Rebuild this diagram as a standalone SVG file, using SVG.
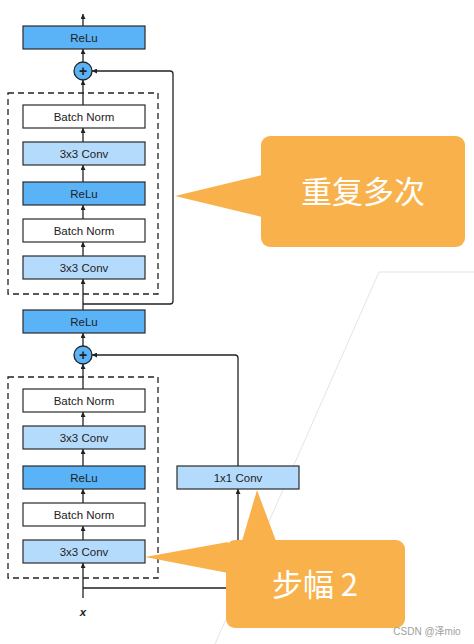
<svg xmlns="http://www.w3.org/2000/svg" width="474" height="644" viewBox="0 0 474 644">
<style>
.box{stroke:#2a2a2a;stroke-width:1.2}
.relu{fill:#5AB3F7}
.conv{fill:#B5DBFC}
.bn{fill:#ffffff}
.lbl{font-family:"Liberation Sans",Arial,sans-serif;font-size:11.5px;fill:#222;text-anchor:middle}
.ln{stroke:#222;stroke-width:1.3;fill:none}
.dash{stroke:#222;stroke-width:1.3;fill:none;stroke-dasharray:6 4}
.call{fill:#F9B24B}
.ct{font-family:"Noto Sans CJK SC","Noto Sans",sans-serif;font-size:31px;fill:#ffffff;text-anchor:middle}
</style>
<defs>
<marker id="ah" viewBox="0 0 10 10" refX="10" refY="5" markerWidth="5" markerHeight="5" orient="auto" markerUnits="userSpaceOnUse">
<path d="M0,0 L10,5 L0,10 z" fill="#222"/>
</marker>
</defs>
<rect width="474" height="644" fill="#ffffff"/>
<g id="artefacts" stroke="#e4e4e4" stroke-width="1" fill="none">
<path d="M474,272 L379,272 L215,644"/>
</g>
<g id="groups">
<rect class="dash" x="8" y="93" width="150" height="201"/>
<rect class="dash" x="8" y="377" width="150" height="201"/>
</g>
<g id="connectors">
<line class="ln" x1="83" y1="26" x2="83" y2="14" marker-end="url(#ah)"/>
<line class="ln" x1="83" y1="62" x2="83" y2="49" marker-end="url(#ah)"/>
<line class="ln" x1="83" y1="105" x2="83" y2="80" marker-end="url(#ah)"/>
<line class="ln" x1="83" y1="142" x2="83" y2="128" marker-end="url(#ah)"/>
<line class="ln" x1="83" y1="182" x2="83" y2="165" marker-end="url(#ah)"/>
<line class="ln" x1="83" y1="219" x2="83" y2="205" marker-end="url(#ah)"/>
<line class="ln" x1="83" y1="256" x2="83" y2="242" marker-end="url(#ah)"/>
<line class="ln" x1="83" y1="310" x2="83" y2="279" marker-end="url(#ah)"/>
<path class="ln" d="M83,304 L170,304 Q173,304 173,301 L173,74 Q173,71 170,71 L92,71" marker-end="url(#ah)"/>
<line class="ln" x1="83" y1="346" x2="83" y2="333" marker-end="url(#ah)"/>
<line class="ln" x1="83" y1="389" x2="83" y2="364" marker-end="url(#ah)"/>
<line class="ln" x1="83" y1="426" x2="83" y2="412" marker-end="url(#ah)"/>
<line class="ln" x1="83" y1="466" x2="83" y2="449" marker-end="url(#ah)"/>
<line class="ln" x1="83" y1="503" x2="83" y2="489" marker-end="url(#ah)"/>
<line class="ln" x1="83" y1="540" x2="83" y2="526" marker-end="url(#ah)"/>
<line class="ln" x1="83" y1="598" x2="83" y2="563" marker-end="url(#ah)"/>
<path class="ln" d="M83,588 L235,588 Q238,588 238,585 L238,489" marker-end="url(#ah)"/>
<path class="ln" d="M238,466 L238,358 Q238,355 235,355 L92,355" marker-end="url(#ah)"/>
</g>
<g id="relu_top"><rect class="box relu" x="23" y="26" width="122" height="23"/><text class="lbl" x="84" y="41.5">ReLu</text></g>
<g id="add_top"><circle cx="83" cy="71" r="9" fill="#5AB3F7" stroke="#222" stroke-width="1.3"/><text class="lbl" x="83" y="75.5" style="font-size:14px;font-weight:bold">+</text></g>
<g id="bn_a1"><rect class="box bn" x="23" y="105" width="122" height="23"/><text class="lbl" x="84" y="120.5">Batch Norm</text></g>
<g id="conv_a1"><rect class="box conv" x="23" y="142" width="122" height="23"/><text class="lbl" x="84" y="157.5">3x3 Conv</text></g>
<g id="relu_a"><rect class="box relu" x="23" y="182" width="122" height="23"/><text class="lbl" x="84" y="197.5">ReLu</text></g>
<g id="bn_a2"><rect class="box bn" x="23" y="219" width="122" height="23"/><text class="lbl" x="84" y="234.5">Batch Norm</text></g>
<g id="conv_a2"><rect class="box conv" x="23" y="256" width="122" height="23"/><text class="lbl" x="84" y="271.5">3x3 Conv</text></g>
<g id="relu_mid"><rect class="box relu" x="23" y="310" width="122" height="23"/><text class="lbl" x="84" y="325.5">ReLu</text></g>
<g id="add_mid"><circle cx="83" cy="355" r="9" fill="#5AB3F7" stroke="#222" stroke-width="1.3"/><text class="lbl" x="83" y="359.5" style="font-size:14px;font-weight:bold">+</text></g>
<g id="bn_b1"><rect class="box bn" x="23" y="389" width="122" height="23"/><text class="lbl" x="84" y="404.5">Batch Norm</text></g>
<g id="conv_b1"><rect class="box conv" x="23" y="426" width="122" height="23"/><text class="lbl" x="84" y="441.5">3x3 Conv</text></g>
<g id="relu_b"><rect class="box relu" x="23" y="466" width="122" height="23"/><text class="lbl" x="84" y="481.5">ReLu</text></g>
<g id="bn_b2"><rect class="box bn" x="23" y="503" width="122" height="23"/><text class="lbl" x="84" y="518.5">Batch Norm</text></g>
<g id="conv_b2"><rect class="box conv" x="23" y="540" width="122" height="23"/><text class="lbl" x="84" y="555.5">3x3 Conv</text></g>
<g id="conv_1x1"><rect class="box conv" x="177" y="466" width="122" height="23"/><text class="lbl" x="238" y="481.5">1x1 Conv</text></g>
<g id="input_x"><text class="lbl" x="83" y="616" style="font-style:italic;font-weight:bold">x</text></g>
<g id="callout_repeat">
<path class="call" d="M175,196 L262,175 L262,217 z"/>
<rect class="call" x="261" y="136" width="204" height="111" rx="9"/>
<text class="ct" x="363" y="203">重复多次</text>
</g>
<g id="callout_stride">
<path class="call" d="M257,490 L242,541 L276,541 z"/>
<path class="call" d="M145,557 L228,542 L228,573 z"/>
<rect class="call" x="226" y="540" width="179" height="88" rx="9"/>
<text class="ct" x="315" y="596">步幅 2</text>
</g>
<text x="427" y="635" style="font-family:'Liberation Sans','Noto Sans CJK SC',sans-serif;font-size:10px;fill:#a0a0a0;text-anchor:middle">CSDN @泽mio</text>
</svg>
